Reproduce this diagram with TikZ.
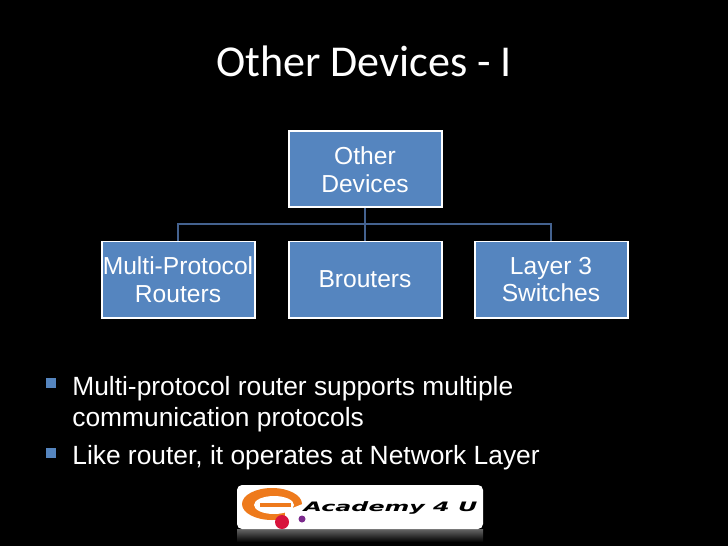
\documentclass[tikz,border=0pt]{standalone}
\usepackage{fontspec}
\setmainfont{Liberation Sans}
\newfontfamily\titlefont{Carlito}
\newfontfamily\logofont{DejaVu Sans}
\definecolor{boxfill}{HTML}{5585BF}
\definecolor{linkcol}{HTML}{44628F}
\definecolor{logoorange}{HTML}{EE7A1C}
\definecolor{logored}{HTML}{D8143C}
\definecolor{logopurple}{HTML}{7B2A8C}
\tikzset{
	orgbox/.style={draw=white,line width=0.04cm,fill=boxfill,minimum width=3.06cm,minimum height=1.52cm,inner sep=0pt,align=center,text=white,font=\fontsize{14}{15.8}\selectfont},
	link/.style={draw=linkcol,line width=0.04cm},
	bullet/.style={fill=boxfill,minimum size=0.2cm,inner sep=0pt},
	bodytext/.style={text=white,anchor=west,inner sep=0pt,font=\fontsize{15}{18}\selectfont}
}
\begin{document}
\begin{tikzpicture}
	\fill[black] (0,0) rectangle (14.56,-10.92);
	\useasboundingbox (0,0) rectangle (14.56,-10.92);

	\node[text=white,inner sep=0pt,font=\titlefont\fontsize{25.1}{28}\selectfont] (title) at (7.28,-1.23) {Other Devices - I};

	\node[orgbox] (top) at (7.3,-3.39) {Other\\Devices};
	\node[orgbox] (multi) at (3.56,-5.59) {Multi-Protocol\\Routers};
	\node[orgbox] (brouters) at (7.3,-5.59) {Brouters};
	\node[orgbox] (layer) at (11.02,-5.59) {Layer 3\\Switches};

	\coordinate (bus) at (7.3,-4.48);
	\draw[link] (top) -- (brouters);
	\draw[link] (multi.north) |- (bus) -| (layer.north);

	\node[bullet] (b1) at (1.02,-7.66) {};
	\node[bullet] (b2) at (1.02,-9.06) {};
	\node[bodytext] (l1) at (1.44,-7.77) {Multi-protocol router supports multiple};
	\node[bodytext] (l2) at (1.44,-8.39) {communication protocols};
	\node[bodytext] (l3) at (1.44,-9.16) {Like router, it operates at Network Layer};

	% logo
	\shade[top color=black!60!white,bottom color=black] (4.74,-10.58) rectangle (9.66,-10.84);
	\fill[white,rounded corners=0.1cm] (4.74,-9.7) rectangle (9.66,-10.58);
	\fill[logoorange] (5.44,-10.08) ellipse[x radius=0.6,y radius=0.32];
	\fill[white] (5.48,-10.1) ellipse[x radius=0.4,y radius=0.18];
	\fill[white] (5.7,-10.22) -- (6.1,-10.06) -- (6.1,-10.45) -- (5.7,-10.45) -- cycle;
	\draw[logoorange,line width=0.07cm] (5.2,-10.1) -- (5.82,-10.1);
	\fill[logored] (5.64,-10.44) circle[radius=0.14];
	\fill[logopurple] (6.04,-10.38) circle[radius=0.07];
	\node[inner sep=0pt,text=black,font=\logofont\bfseries\itshape\fontsize{7.4}{9}\selectfont,xscale=1.83] (logotext) at (7.81,-10.16) {Academy 4 U};
\end{tikzpicture}
\end{document}
